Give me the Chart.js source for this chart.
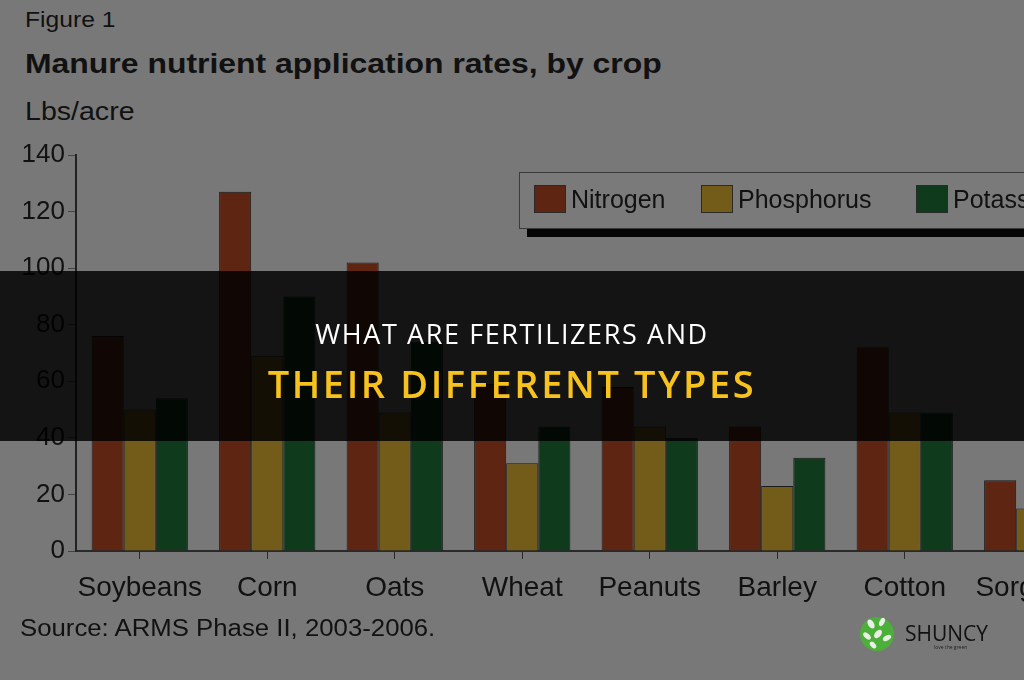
<!DOCTYPE html>
<html>
<head>
<meta charset="utf-8">
<script src="https://cdn.jsdelivr.net/npm/chart.js@4.4.1/dist/chart.umd.min.js"></script>
<style>
  html, body { margin: 0; padding: 0; }
  body {
    width: 1024px; height: 680px; overflow: hidden; position: relative;
    background: #787878; font-family: "Liberation Sans", Arial, sans-serif; color: #111;
  }
  .txt { position: absolute; left: 25px; white-space: nowrap; transform-origin: left center; transform: scaleX(1.12); line-height: 1; }
  #chartWrap { position: absolute; left: 0; top: 0; width: 1110px; height: 640px; }
  #legend {
    position: absolute; left: 519px; top: 172px; width: 600px; height: 55px;
    border: 1px solid #3a3a3a; background: #7a7a7a; box-shadow: 8px 8px 0 #050505;
  }
  .item { position: absolute; top: 12px; height: 28px; font-size: 25px; line-height: 28px; white-space: nowrap; }
  .sw { display: inline-block; width: 30px; height: 26px; border: 1px solid #2a2a2a; vertical-align: top; margin-right: 5px; }
  #band { position: absolute; left: 0; top: 271px; width: 1024px; height: 170px; background: rgba(0,0,0,0.83); }
  .head { position: absolute; left: 0; width: 1024px; text-align: center; font-family: "Open Sans", sans-serif; white-space: nowrap; line-height: 1; }
  #logo { position: absolute; left: 858px; top: 612px; }
</style>
</head>
<body>
<div class="txt" style="top:9px;font-size:22px;">Figure 1</div>
<div class="txt" style="top:49px;font-size:28.5px;font-weight:bold;">Manure nutrient application rates, by crop</div>
<div class="txt" style="top:99px;font-size:25.5px;">Lbs/acre</div>
<div id="chartWrap"><canvas id="chart" width="1110" height="640"></canvas></div>
<div id="legend"></div>
<div class="txt" style="left:20px;top:617px;font-size:23px;">Source: ARMS Phase II, 2003-2006.</div>
<div id="band"></div>
<div class="head" style="top:320px;font-size:27px;letter-spacing:1.6px;color:#fff;">WHAT ARE FERTILIZERS AND</div>
<div class="head" style="top:364px;font-size:38px;letter-spacing:2.6px;font-weight:600;color:#f8c21e;">THEIR DIFFERENT TYPES</div>
<div id="logo">
  <svg width="140" height="46" viewBox="0 0 140 46">
    <circle cx="19" cy="22" r="17" fill="#4caf3a"/>
    <ellipse cx="13" cy="12" rx="3" ry="5" fill="#e8efe4" transform="rotate(-30 13 12)"/>
    <ellipse cx="24" cy="10" rx="2.5" ry="4.5" fill="#e8efe4" transform="rotate(25 24 10)"/>
    <ellipse cx="9" cy="24" rx="2.5" ry="4.5" fill="#e8efe4" transform="rotate(-50 9 24)"/>
    <ellipse cx="20" cy="22" rx="3" ry="5" fill="#e8efe4" transform="rotate(40 20 22)"/>
    <ellipse cx="29" cy="26" rx="2.5" ry="4.5" fill="#e8efe4" transform="rotate(60 29 26)"/>
    <ellipse cx="15" cy="33" rx="2.5" ry="4" fill="#e8efe4" transform="rotate(-40 15 33)"/>
    <text x="47" y="29" font-family="Open Sans, sans-serif" font-size="21" fill="#111">SHUNCY</text>
    <text x="76" y="37" font-family="Open Sans, sans-serif" font-size="5" fill="#222">love the green</text>
  </svg>
</div>
<script>
const crops = ["Soybeans", "Corn", "Oats", "Wheat", "Peanuts", "Barley", "Cotton", "Sorghum"]
const nitrogen = [76, 127, 102, 59, 58, 44, 72, 25]
const phosphorus = [50, 69, 49, 31, 44, 23, 49, 15]
const potassium = [54, 90, 74, 44, 40, 33, 49, 18]
const seriesNames = ["Nitrogen", "Phosphorus", "Potassium"]
const seriesColors = ["#5e2512", "#735b1a", "#0f3a1b"]
const yTicks = [0, 20, 40, 60, 80, 100, 120, 140]

// legend built from the series arrays
const legendLeft = [14, 181, 396]
const legend = document.getElementById("legend")
seriesNames.forEach((name, i) => {
  const el = document.createElement("div")
  el.className = "item"
  el.style.left = legendLeft[i] + "px"
  el.innerHTML = `<span class="sw" style="background:${seriesColors[i]}"></span>${name}`
  legend.appendChild(el)
})

const ctx = document.getElementById("chart").getContext("2d")
const values = [nitrogen, phosphorus, potassium]

new Chart(ctx, {
  type: "bar",
  data: {
    labels: crops,
    datasets: seriesNames.map((name, i) => ({
      label: name,
      data: values[i],
      backgroundColor: seriesColors[i],
      borderColor: "#1c1c1c",
      borderWidth: 1,
      barPercentage: 1.0,
      categoryPercentage: 0.755,
    })),
  },
  options: {
    responsive: false,
    animation: false,
    layout: { padding: { top: 155, right: 14, bottom: 29, left: 0 } },
    plugins: {
      legend: { display: false },
      tooltip: { enabled: false },
    },
    scales: {
      x: {
        afterFit: (scale) => { scale.height = 60 },
        grid: { offset: false, drawOnChartArea: false, drawTicks: true, tickLength: 8, color: "#2a2a2a" },
        border: { display: true, color: "#2a2a2a", width: 2 },
        ticks: {
          color: "#111", padding: 12, maxRotation: 0, minRotation: 0, autoSkip: false,
          font: { family: "Liberation Sans", size: 28 },
        },
      },
      y: {
        min: 0,
        max: 140,
        afterFit: (scale) => { scale.width = 76 },
        afterBuildTicks: (scale) => { scale.ticks = yTicks.map((v) => ({ value: v })) },
        grid: { drawOnChartArea: false, drawTicks: true, tickLength: 8, color: "#444" },
        border: { display: true, color: "#222", width: 2 },
        ticks: { color: "#111", padding: 3, font: { family: "Liberation Sans", size: 26 } },
      },
    },
  },
})
</script>
</body>
</html>
